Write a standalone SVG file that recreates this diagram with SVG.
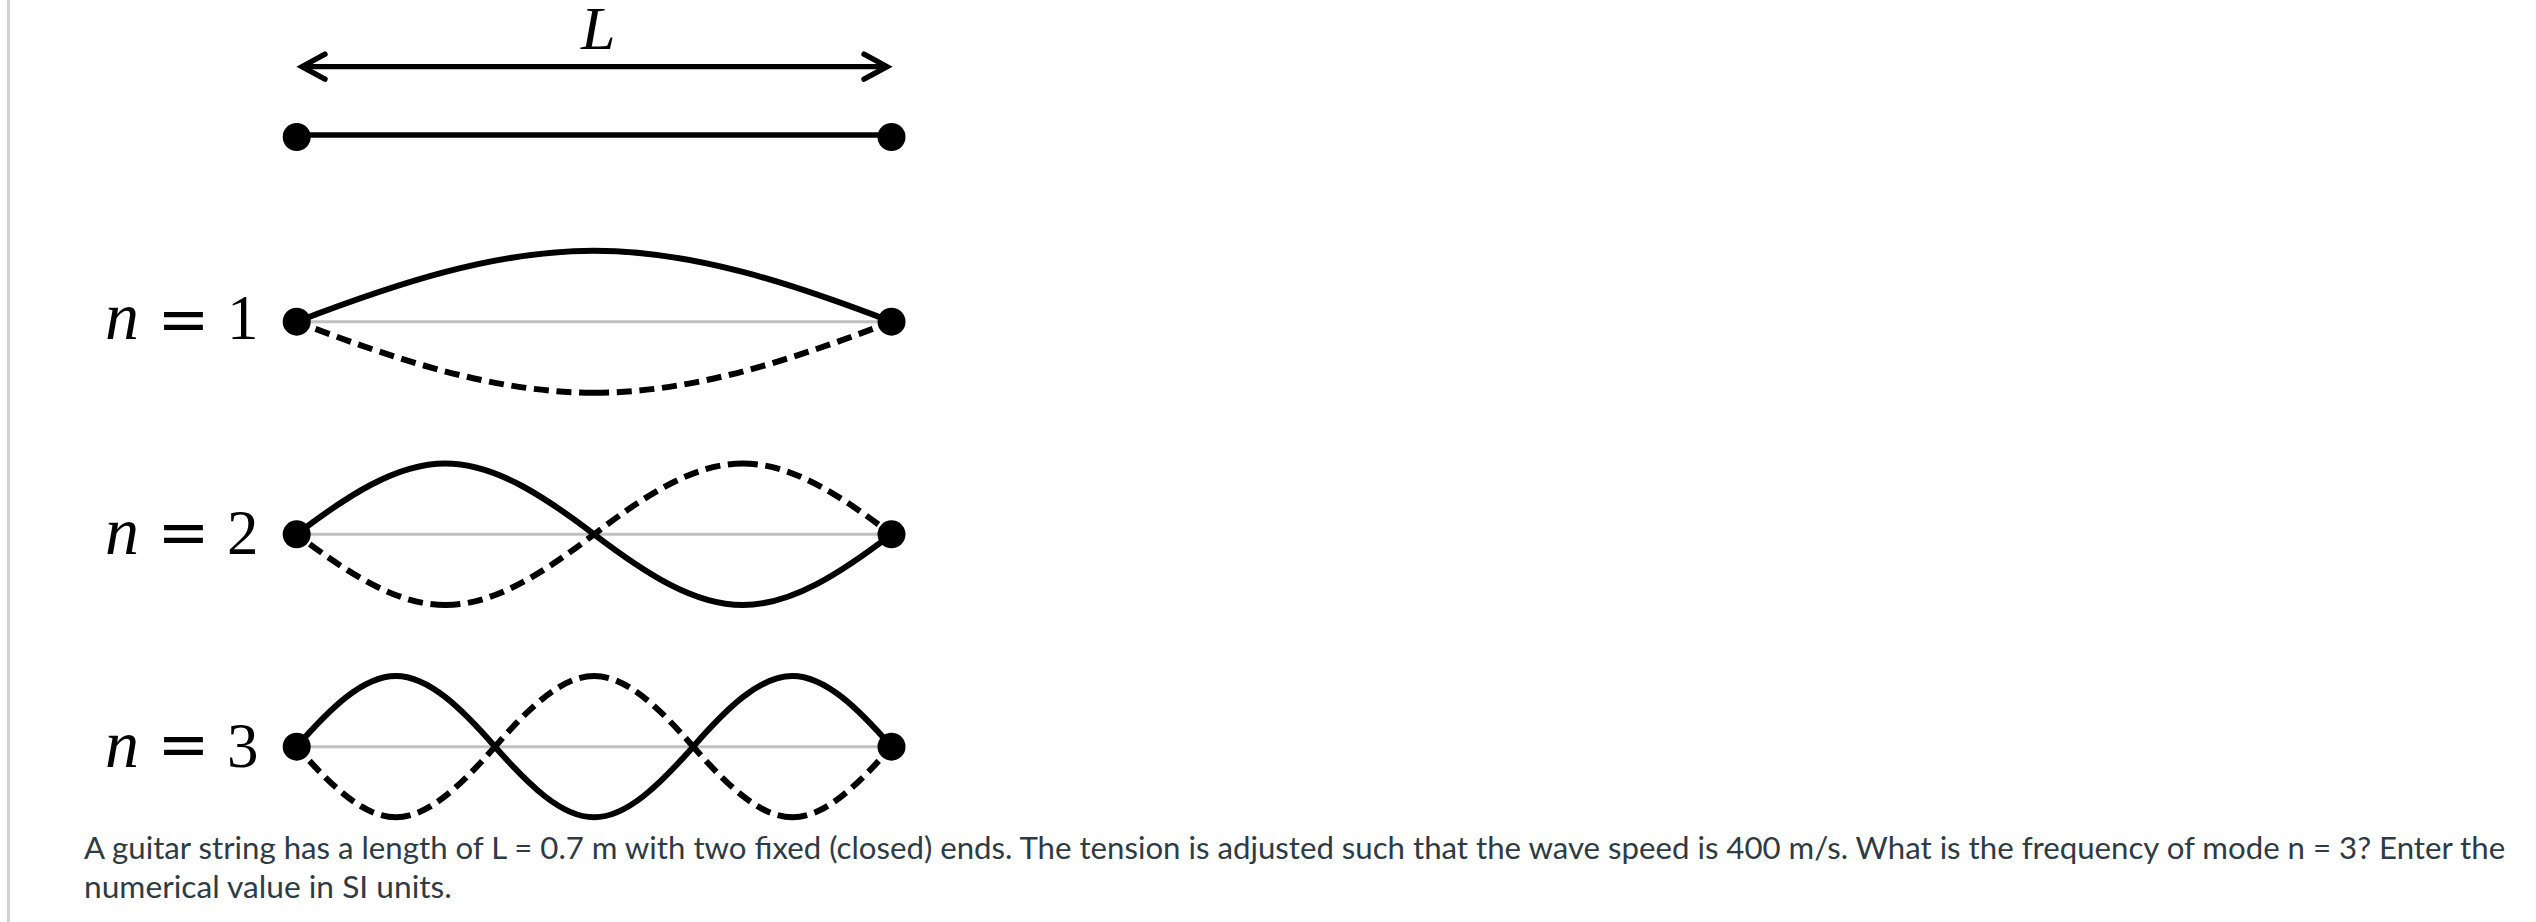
<svg xmlns="http://www.w3.org/2000/svg" width="2536" height="922" viewBox="0 0 2536 922">
<style>
.s{fill:none;stroke:#000;stroke-width:6}
.d{fill:none;stroke:#000;stroke-width:6;stroke-dasharray:15 7.7}
.g{stroke:#c0c0c0;stroke-width:3}
.m{font-family:"Liberation Serif",serif;font-size:63px;fill:#000}
.i{font-style:italic;font-size:68px}
.e{font-family:"DejaVu Sans",sans-serif;font-size:62px}
.q{font-family:Lato,"Liberation Sans",sans-serif;fill:#2d3b45}
</style>
<defs>
<marker id="h" markerUnits="userSpaceOnUse" markerWidth="40" markerHeight="40" refX="30" refY="20" orient="auto-start-reverse"><path d="M7 7.5L30 20L7 32.5" fill="none" stroke="#000" stroke-width="5.4" stroke-linecap="round"/></marker>
</defs>
<rect width="2536" height="922" fill="#fff"/>
<rect x="7" y="0" width="3" height="922" fill="#d2d2d2"/>
<g id="connectors">
<line x1="302" y1="66.7" x2="887" y2="66.7" stroke="#000" stroke-width="5.2" marker-start="url(#h)" marker-end="url(#h)"/>
<line x1="296.7" y1="135" x2="891.5" y2="135" stroke="#000" stroke-width="5.6"/>
<line class="g" x1="296.7" y1="321.7" x2="891.5" y2="321.7"/>
<line class="g" x1="296.7" y1="534.3" x2="891.5" y2="534.3"/>
<line class="g" x1="296.7" y1="746.7" x2="891.5" y2="746.7"/>
<path id="n1-solid" class="s" d="M296.7 321.7C395.8 283.7 495 250.7 594.1 250.7C693.2 250.7 792.4 283.7 891.5 321.7"/>
<path id="n1-dashed" class="d" d="M594.1 392.7C495 392.7 395.8 359.7 296.7 321.7M594.1 392.7C693.2 392.7 792.4 359.7 891.5 321.7"/>
<path id="n2-solid" class="s" d="M296.7 534.3C346.3 496.5 395.8 463.5 445.4 463.5C495 463.5 544.5 496.5 594.1 534.3C643.7 572 693.2 605 742.8 605C792.4 605 841.9 572 891.5 534.3"/>
<path id="n2-dashed" class="d" d="M445.4 605C395.8 605 346.3 572 296.7 534.3M445.4 605C495 605 544.5 572 594.1 534.3M742.8 463.5C693.2 463.5 643.7 496.5 594.1 534.3M742.8 463.5C792.4 463.5 841.9 496.5 891.5 534.3"/>
<path id="n3-solid" class="s" d="M296.7 746.7C329.7 709 362.8 676 395.8 676C428.8 676 462 709 495 746.7C528 784 561 817.3 594.1 817.3C627 817.3 660.2 784 693.2 746.7C726.2 709 759.4 676 792.4 676C825.4 676 858.5 709 891.5 746.7"/>
<path id="n3-dashed" class="d" d="M395.8 817.3C362.8 817.3 329.7 784 296.7 746.7M395.8 817.3C428.8 817.3 462 784 495 746.7M594.1 676C561 676 528 709 495 746.7M594.1 676C627 676 660.2 709 693.2 746.7M792.4 817.3C759.4 817.3 726.2 784 693.2 746.7M792.4 817.3C825.4 817.3 858.5 784 891.5 746.7"/>
</g>
<g id="dots">
<circle cx="296.7" cy="137" r="14"/><circle cx="891.5" cy="137" r="14"/>
<circle cx="296.7" cy="321.7" r="14"/><circle cx="891.5" cy="321.7" r="14"/>
<circle cx="296.7" cy="534.3" r="14"/><circle cx="891.5" cy="534.3" r="14"/>
<circle cx="296.7" cy="746.7" r="14"/><circle cx="891.5" cy="746.7" r="14"/>
</g>
<g id="labels">
<text class="m i" style="font-size:62px" x="581" y="49">L</text>
<text class="m" y="339"><tspan class="i" x="105">n</tspan><tspan class="e" x="157.4" y="341">=</tspan><tspan x="227" y="339">1</tspan></text>
<text class="m" y="554"><tspan class="i" x="105">n</tspan><tspan class="e" x="157.4" y="553.5">=</tspan><tspan x="227" y="554">2</tspan></text>
<text class="m" y="767"><tspan class="i" x="105">n</tspan><tspan class="e" x="157.4" y="765.7">=</tspan><tspan x="227" y="767">3</tspan></text>
</g>
<g id="question">
<text class="q" font-size="31.19" x="84" y="859.3">A guitar string has a length of L = 0.7 m with two fixed (closed) ends. The tension is adjusted such that the wave speed is 400 m/s. What is the frequency of mode n = 3? Enter the</text>
<text class="q" font-size="31.7" x="84" y="898">numerical value in SI units.</text>
</g>
</svg>
